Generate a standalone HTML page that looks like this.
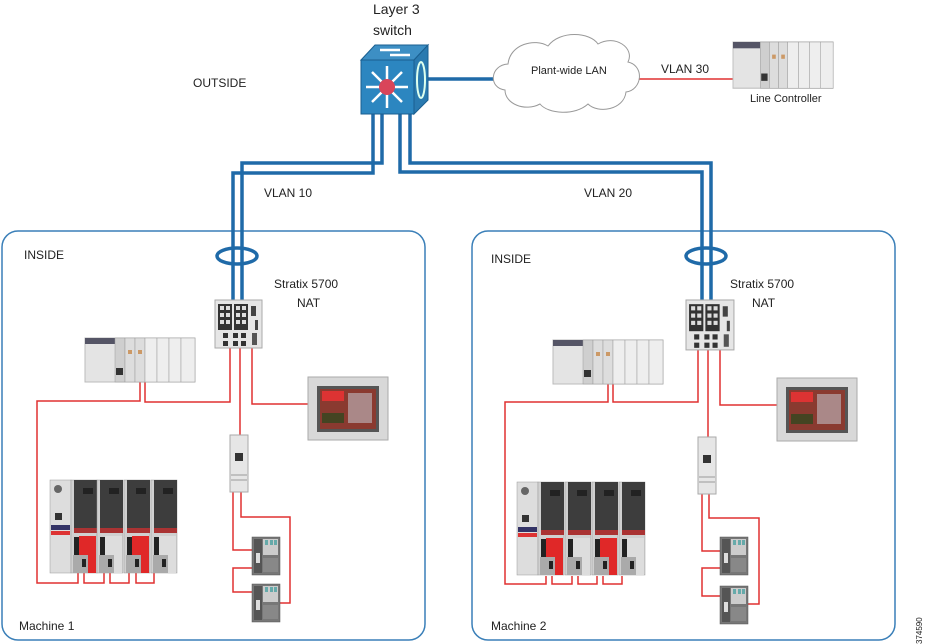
<!DOCTYPE html>
<html><head><meta charset="utf-8"><style>
html,body{margin:0;padding:0;background:#fff}
svg{display:block}
text{font-family:"Liberation Sans",sans-serif;fill:#222}
</style></head><body>
<svg width="927" height="644" viewBox="0 0 927 644" xmlns="http://www.w3.org/2000/svg">
<defs>
<g id="rack">
<rect x="0" y="0" width="110" height="44" fill="#e4e4e4" stroke="#bbb"/>
<rect x="0" y="0" width="30" height="6" fill="#556"/>
<rect x="30" y="0" width="80" height="5" fill="#4a5a5a"/>
<rect x="30" y="0" width="10" height="44" fill="#cfcfcf" stroke="#999" stroke-width="0.5"/>
<rect x="31" y="30" width="7" height="7" fill="#333"/>
<rect x="40" y="0" width="10" height="44" fill="#ddd" stroke="#999" stroke-width="0.5"/>
<rect x="43" y="12" width="4" height="4" fill="#c96"/>
<rect x="50" y="0" width="10" height="44" fill="#ddd" stroke="#999" stroke-width="0.5"/>
<rect x="53" y="12" width="4" height="4" fill="#c96"/>
<rect x="60" y="0" width="12" height="44" fill="#eee" stroke="#999" stroke-width="0.5"/>
<rect x="72" y="0" width="12" height="44" fill="#eee" stroke="#999" stroke-width="0.5"/>
<rect x="84" y="0" width="12" height="44" fill="#eee" stroke="#999" stroke-width="0.5"/>
<rect x="96" y="0" width="14" height="44" fill="#eee" stroke="#999" stroke-width="0.5"/>
</g>
<g id="stx">
<rect x="0" y="0" width="47" height="48" fill="#e6e6e6" stroke="#aaa"/>
<rect x="3" y="4" width="14" height="26" fill="#333"/>
<rect x="19" y="4" width="14" height="26" fill="#333"/>
<rect x="5" y="6" width="4" height="4" fill="#ddd"/><rect x="11" y="6" width="4" height="4" fill="#ddd"/>
<rect x="5" y="13" width="4" height="4" fill="#ddd"/><rect x="11" y="13" width="4" height="4" fill="#ddd"/>
<rect x="5" y="20" width="4" height="4" fill="#ddd"/><rect x="11" y="20" width="4" height="4" fill="#ddd"/>
<rect x="21" y="6" width="4" height="4" fill="#ddd"/><rect x="27" y="6" width="4" height="4" fill="#ddd"/>
<rect x="21" y="13" width="4" height="4" fill="#ddd"/><rect x="27" y="13" width="4" height="4" fill="#ddd"/>
<rect x="21" y="20" width="4" height="4" fill="#ddd"/><rect x="27" y="20" width="4" height="4" fill="#ddd"/>
<rect x="8" y="33" width="5" height="5" fill="#333"/><rect x="8" y="41" width="5" height="5" fill="#333"/>
<rect x="18" y="33" width="5" height="5" fill="#333"/><rect x="26" y="33" width="5" height="5" fill="#333"/>
<rect x="18" y="41" width="5" height="5" fill="#333"/><rect x="26" y="41" width="5" height="5" fill="#333"/>
<rect x="36" y="6" width="5" height="10" fill="#444"/><rect x="40" y="20" width="3" height="10" fill="#444"/>
<rect x="37" y="33" width="5" height="12" fill="#555"/>
</g>
<g id="hmi">
<rect x="0" y="0" width="80" height="63" fill="#d8d8d8" stroke="#aaa"/>
<rect x="9" y="9" width="62" height="46" fill="#555"/>
<rect x="12" y="12" width="56" height="40" fill="#8a3a30"/>
<rect x="14" y="14" width="22" height="10" fill="#d33"/>
<rect x="40" y="16" width="24" height="30" fill="#a88"/>
<rect x="14" y="36" width="22" height="10" fill="#442"/>
</g>
<g id="drv">
<rect x="0" y="0" width="26" height="93" fill="#d0d0d0" stroke="#999" stroke-width="0.5"/>
<path d="M3 0 H26 V50 H3 Z" fill="#3d3d3d"/>
<rect x="12" y="8" width="10" height="6" fill="#222"/>
<rect x="3" y="48" width="23" height="5" fill="#a33"/>
<rect x="3" y="57" width="5" height="20" fill="#222"/>
<rect x="8" y="56" width="17" height="37" fill="#e02828"/>
<rect x="2" y="75" width="15" height="18" fill="#aaa"/>
<rect x="11" y="79" width="4" height="8" fill="#222"/>
</g>
<g id="drvg">
<rect x="0" y="0" width="26" height="93" fill="#d0d0d0" stroke="#999" stroke-width="0.5"/>
<path d="M3 0 H26 V50 H3 Z" fill="#3d3d3d"/>
<rect x="12" y="8" width="10" height="6" fill="#222"/>
<rect x="3" y="48" width="23" height="5" fill="#a33"/>
<rect x="3" y="57" width="5" height="20" fill="#222"/>
<rect x="8" y="56" width="17" height="37" fill="#ddd"/>
<rect x="2" y="75" width="15" height="18" fill="#aaa"/>
<rect x="11" y="79" width="4" height="8" fill="#222"/>
</g>
<g id="pwr">
<rect x="0" y="0" width="21" height="93" fill="#ddd" stroke="#999" stroke-width="0.5"/>
<circle cx="8" cy="9" r="4" fill="#666"/>
<rect x="5" y="33" width="7" height="7" fill="#333"/>
<rect x="1" y="45" width="19" height="5" fill="#336"/>
<rect x="1" y="51" width="19" height="4" fill="#d33"/>
</g>
<g id="ada">
<rect x="0" y="0" width="18" height="57" fill="#e6e6e6" stroke="#aaa"/>
<rect x="5" y="18" width="8" height="8" fill="#333"/>
<line x1="1" y1="40" x2="17" y2="40" stroke="#999"/>
<line x1="1" y1="45" x2="17" y2="45" stroke="#999"/>
</g>
<g id="io">
<rect x="0" y="0" width="28" height="38" fill="#777" stroke="#555" stroke-width="0.5"/>
<rect x="2" y="2" width="8" height="34" fill="#555"/>
<rect x="4" y="16" width="4" height="10" fill="#ddd"/>
<rect x="11" y="2" width="15" height="16" fill="#ccc"/>
<rect x="13" y="3" width="3" height="5" fill="#6aa"/><rect x="18" y="3" width="3" height="5" fill="#6aa"/><rect x="22" y="3" width="3" height="5" fill="#6aa"/>
<rect x="11" y="21" width="15" height="14" fill="#888"/>
</g>
</defs>

<!-- boxes -->
<rect x="2" y="231" width="423" height="409" rx="16" fill="none" stroke="#3a7fb8" stroke-width="1.5"/>
<rect x="472" y="231" width="423" height="409" rx="16" fill="none" stroke="#3a7fb8" stroke-width="1.5"/>

<!-- blue trunk lines -->
<g fill="none" stroke="#1f6aa8" stroke-width="3.5">
<path d="M373 112 V173 H233 V300"/>
<path d="M382 112 V163 H242 V300"/>
<path d="M400 112 V172 H702 V300"/>
<path d="M410 112 V163 H711 V300"/>
<path d="M428 79 H498"/>
<ellipse cx="237" cy="256" rx="20" ry="8"/>
<ellipse cx="706" cy="256" rx="20" ry="8"/>
</g>
<line x1="636" y1="79" x2="734" y2="79" stroke="#e03030" stroke-width="1.5"/>

<!-- L3 switch -->
<g>
<polygon points="361,60 375,45 428,45 414,60" fill="#3d8fc4" stroke="#1a5f90"/>
<polygon points="414,60 428,45 428,100 414,114" fill="#2a7ab0" stroke="#1a5f90"/>
<rect x="361" y="60" width="53" height="54" fill="#2c86c0" stroke="#1a5f90"/>
<ellipse cx="421" cy="80" rx="4" ry="18" fill="none" stroke="#dfe" stroke-width="2"/>
<g stroke="#fff" stroke-width="2.5" fill="none">
<line x1="387" y1="87" x2="387" y2="66"/><line x1="387" y1="87" x2="387" y2="108"/>
<line x1="387" y1="87" x2="366" y2="87"/><line x1="387" y1="87" x2="408" y2="87"/>
<line x1="387" y1="87" x2="372" y2="72"/><line x1="387" y1="87" x2="402" y2="72"/>
<line x1="387" y1="87" x2="372" y2="102"/><line x1="387" y1="87" x2="402" y2="102"/>
<line x1="380" y1="50" x2="400" y2="50"/><line x1="390" y1="55" x2="410" y2="55"/>
</g>
<circle cx="387" cy="87" r="8" fill="#d9455a"/>
</g>

<!-- cloud -->
<path d="M505 90 C488 88 490 65 508 64 C510 44 535 38 548 46 C560 30 590 32 598 44 C615 34 635 48 628 62 C645 66 642 90 626 92 C624 110 598 114 588 104 C575 116 548 114 540 104 C525 112 505 104 505 90 Z" fill="#fff" stroke="#999"/>
<text x="531" y="74" font-size="11">Plant-wide LAN</text>
<text x="661" y="73" font-size="12">VLAN 30</text>

<!-- line controller -->
<use href="#rack" transform="translate(733,42) scale(0.91,1.05)"/>
<text x="750" y="102" font-size="11">Line  Controller</text>

<text x="373" y="14" font-size="14">Layer 3</text>
<text x="373" y="35" font-size="14">switch</text>
<text x="193" y="87" font-size="12">OUTSIDE</text>
<text x="264" y="197" font-size="12">VLAN 10</text>
<text x="584" y="197" font-size="12">VLAN 20</text>

<!-- machine 1 -->
<g>
<g fill="none" stroke="#e03030" stroke-width="1.5">
<path d="M140 382 V401 H37 V583 H78 V573"/>
<path d="M145 382 V402 H230 V347"/>
<path d="M240 347 V435"/>
<path d="M252 347 V404 H308"/>
<path d="M84 573 V583 H104 V573"/>
<path d="M110 573 V583 H129 V573"/>
<path d="M136 573 V583 H154 V573"/>
<path d="M233 492 V550 H252"/>
<path d="M241 492 V517 H290 V603 H280"/>
<path d="M252 568 H233 V592 H252"/>
</g>
<use href="#stx" transform="translate(215,300)"/>
<use href="#rack" transform="translate(85,338)"/>
<use href="#hmi" transform="translate(308,377)"/>
<use href="#pwr" transform="translate(50,480)"/>
<use href="#drv" transform="translate(71,480)"/>
<use href="#drvg" transform="translate(97,480)"/>
<use href="#drv" transform="translate(124,480)"/>
<use href="#drvg" transform="translate(151,480)"/>
<use href="#ada" transform="translate(230,435)"/>
<use href="#io" transform="translate(252,537)"/>
<use href="#io" transform="translate(252,584)"/>
<text x="24" y="259" font-size="12">INSIDE</text>
<text x="274" y="288" font-size="12">Stratix  5700</text>
<text x="297" y="307" font-size="12">NAT</text>
<text x="19" y="630" font-size="12">Machine     1</text>
</g>

<!-- machine 2 -->
<g>
<g fill="none" stroke="#e03030" stroke-width="1.5">
<path d="M608 384 V402 H505 V584 H546 V576"/>
<path d="M613 384 V402 H698 V350"/>
<path d="M708 350 V437"/>
<path d="M720 350 V405 H777"/>
<path d="M552 576 V584 H572 V576"/>
<path d="M578 576 V584 H597 V576"/>
<path d="M603 576 V584 H622 V576"/>
<path d="M702 492 V551 H720"/>
<path d="M709 492 V518 H759 V604 H748"/>
<path d="M720 568 H702 V596 H720"/>
</g>
<use href="#stx" transform="translate(686,300) scale(1.02,1.04)"/>
<use href="#rack" transform="translate(553,340)"/>
<use href="#hmi" transform="translate(777,378)"/>
<use href="#pwr" transform="translate(517,482)"/>
<use href="#drv" transform="translate(538,482)"/>
<use href="#drvg" transform="translate(565,482)"/>
<use href="#drv" transform="translate(592,482)"/>
<use href="#drvg" transform="translate(619,482)"/>
<use href="#ada" transform="translate(698,437)"/>
<use href="#io" transform="translate(720,537)"/>
<use href="#io" transform="translate(720,586)"/>
<text x="491" y="263" font-size="12">INSIDE</text>
<text x="730" y="288" font-size="12">Stratix  5700</text>
<text x="752" y="307" font-size="12">NAT</text>
<text x="491" y="630" font-size="12">Machine     2</text>
</g>
<text x="0" y="0" font-size="8" transform="translate(922,644) rotate(-90)">374590</text>
</svg>
</body></html>
